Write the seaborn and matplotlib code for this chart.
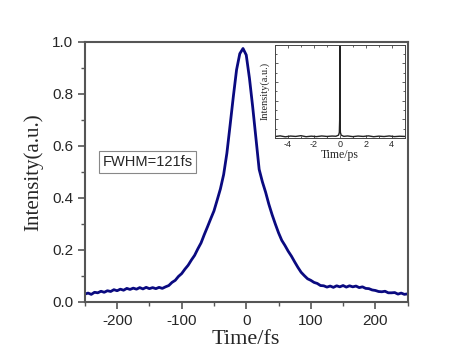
import matplotlib
matplotlib.use("Agg")
import matplotlib.pyplot as plt
import seaborn as sns
import pandas as pd
from matplotlib.ticker import MultipleLocator

# main autocorrelation trace (fs, a.u.), every 5 fs
time_fs = list(range(-250, 255, 5))
intensity = [
    0.030, 0.034, 0.029, 0.037, 0.035, 0.041, 0.037, 0.043, 0.040, 0.047,
    0.043, 0.049, 0.045, 0.052, 0.048, 0.053, 0.049, 0.055, 0.050, 0.056,
    0.051, 0.055, 0.051, 0.056, 0.052, 0.058, 0.063, 0.075, 0.083, 0.098,
    0.109, 0.126, 0.141, 0.161, 0.179, 0.204, 0.227, 0.259, 0.289, 0.320,
    0.350, 0.392, 0.435, 0.490, 0.572, 0.680, 0.790, 0.893, 0.955, 0.975,
    0.950, 0.860, 0.750, 0.630, 0.510, 0.462, 0.422, 0.376, 0.336, 0.300,
    0.266, 0.237, 0.217, 0.195, 0.176, 0.154, 0.133, 0.114, 0.101, 0.089,
    0.083, 0.075, 0.071, 0.063, 0.062, 0.057, 0.061, 0.056, 0.062, 0.058,
    0.063, 0.057, 0.062, 0.058, 0.061, 0.055, 0.058, 0.052, 0.051, 0.046,
    0.044, 0.040, 0.039, 0.041, 0.035, 0.035, 0.036, 0.030, 0.034, 0.029,
    0.031,
]

# inset: wide scan in ps
time_ps = [-5.0, -4.6, -4.2, -3.8, -3.4, -3.0, -2.6, -2.2, -1.8, -1.4,
           -1.0, -0.6, -0.3, -0.1, -0.04, -0.015, 0.0, 0.015, 0.04, 0.1,
           0.3, 0.6, 1.0, 1.4, 1.8, 2.2, 2.6, 3.0, 3.4, 3.8, 4.2, 4.6, 5.0]
intensity_ps = [0.015, 0.022, 0.012, 0.020, 0.016, 0.024, 0.013, 0.019, 0.014, 0.021,
                0.016, 0.020, 0.018, 0.030, 0.060, 0.190, 1.000, 0.190, 0.060, 0.030,
                0.017, 0.021, 0.014, 0.020, 0.016, 0.022, 0.013, 0.019, 0.015, 0.021,
                0.014, 0.018, 0.016]

main_df = pd.DataFrame({"t": time_fs, "I": intensity})
inset_df = pd.DataFrame({"t": time_ps, "I": intensity_ps})

sns.set_style("ticks")
plt.rcParams["font.family"] = ["Liberation Sans", "DejaVu Sans"]
plt.rcParams["axes.unicode_minus"] = False

fig = plt.figure(figsize=(4.74, 3.62), dpi=100)
ax = fig.add_axes([0.179, 0.166, 0.681, 0.718])
sns.lineplot(data=main_df, x="t", y="I", ax=ax, color="#0a0a80", linewidth=2.0)
ax.set_xlim(-250, 250)
ax.set_ylim(0, 1.0)
ax.xaxis.set_major_locator(MultipleLocator(100))
ax.xaxis.set_minor_locator(MultipleLocator(50))
ax.yaxis.set_major_locator(MultipleLocator(0.2))
ax.yaxis.set_minor_locator(MultipleLocator(0.1))
ax.tick_params(which="major", direction="out", length=5, width=1.2, labelsize=11, color="#555555")
ax.tick_params(which="minor", direction="out", length=3, width=1.0, color="#555555")
ax.set_yticklabels([f"{v:.1f}" for v in ax.get_yticks()])
for s in ax.spines.values():
    s.set_color("#555555")
    s.set_linewidth(1.5)
ax.set_xlabel("Time/fs", fontsize=16, family="Liberation Serif", labelpad=2)
ax.set_ylabel("Intensity(a.u.)", fontsize=15, family="Liberation Serif", labelpad=6)
ax.text(0.195, 0.538, "FWHM=121fs", transform=ax.transAxes, fontsize=10.5,
        ha="center", va="center",
        bbox=dict(boxstyle="square,pad=0.25", fc="white", ec="#888888", lw=0.8))

# inset
axi = fig.add_axes([0.580, 0.619, 0.274, 0.257])
sns.lineplot(data=inset_df, x="t", y="I", ax=axi, color="#222222", linewidth=1.0)
axi.set_xlim(-5, 5)
axi.set_ylim(0, 1.0)
axi.xaxis.set_major_locator(MultipleLocator(2))
axi.xaxis.set_minor_locator(MultipleLocator(1))
axi.yaxis.set_major_locator(MultipleLocator(0.2))
axi.yaxis.set_minor_locator(MultipleLocator(0.1))
axi.tick_params(which="both", direction="in", top=True, right=True, labelsize=6.5,
                length=2, width=0.6, pad=1.5, color="#444444")
axi.tick_params(which="minor", length=1.2)
axi.set_yticklabels([])
for s in axi.spines.values():
    s.set_color("#444444")
    s.set_linewidth(0.7)
axi.set_xlabel("Time/ps", fontsize=8.5, family="Liberation Serif", labelpad=0)
axi.set_ylabel("Intensity(a.u.)", fontsize=7.5, family="Liberation Serif", labelpad=2)

fig.savefig("out.png", dpi=100)
